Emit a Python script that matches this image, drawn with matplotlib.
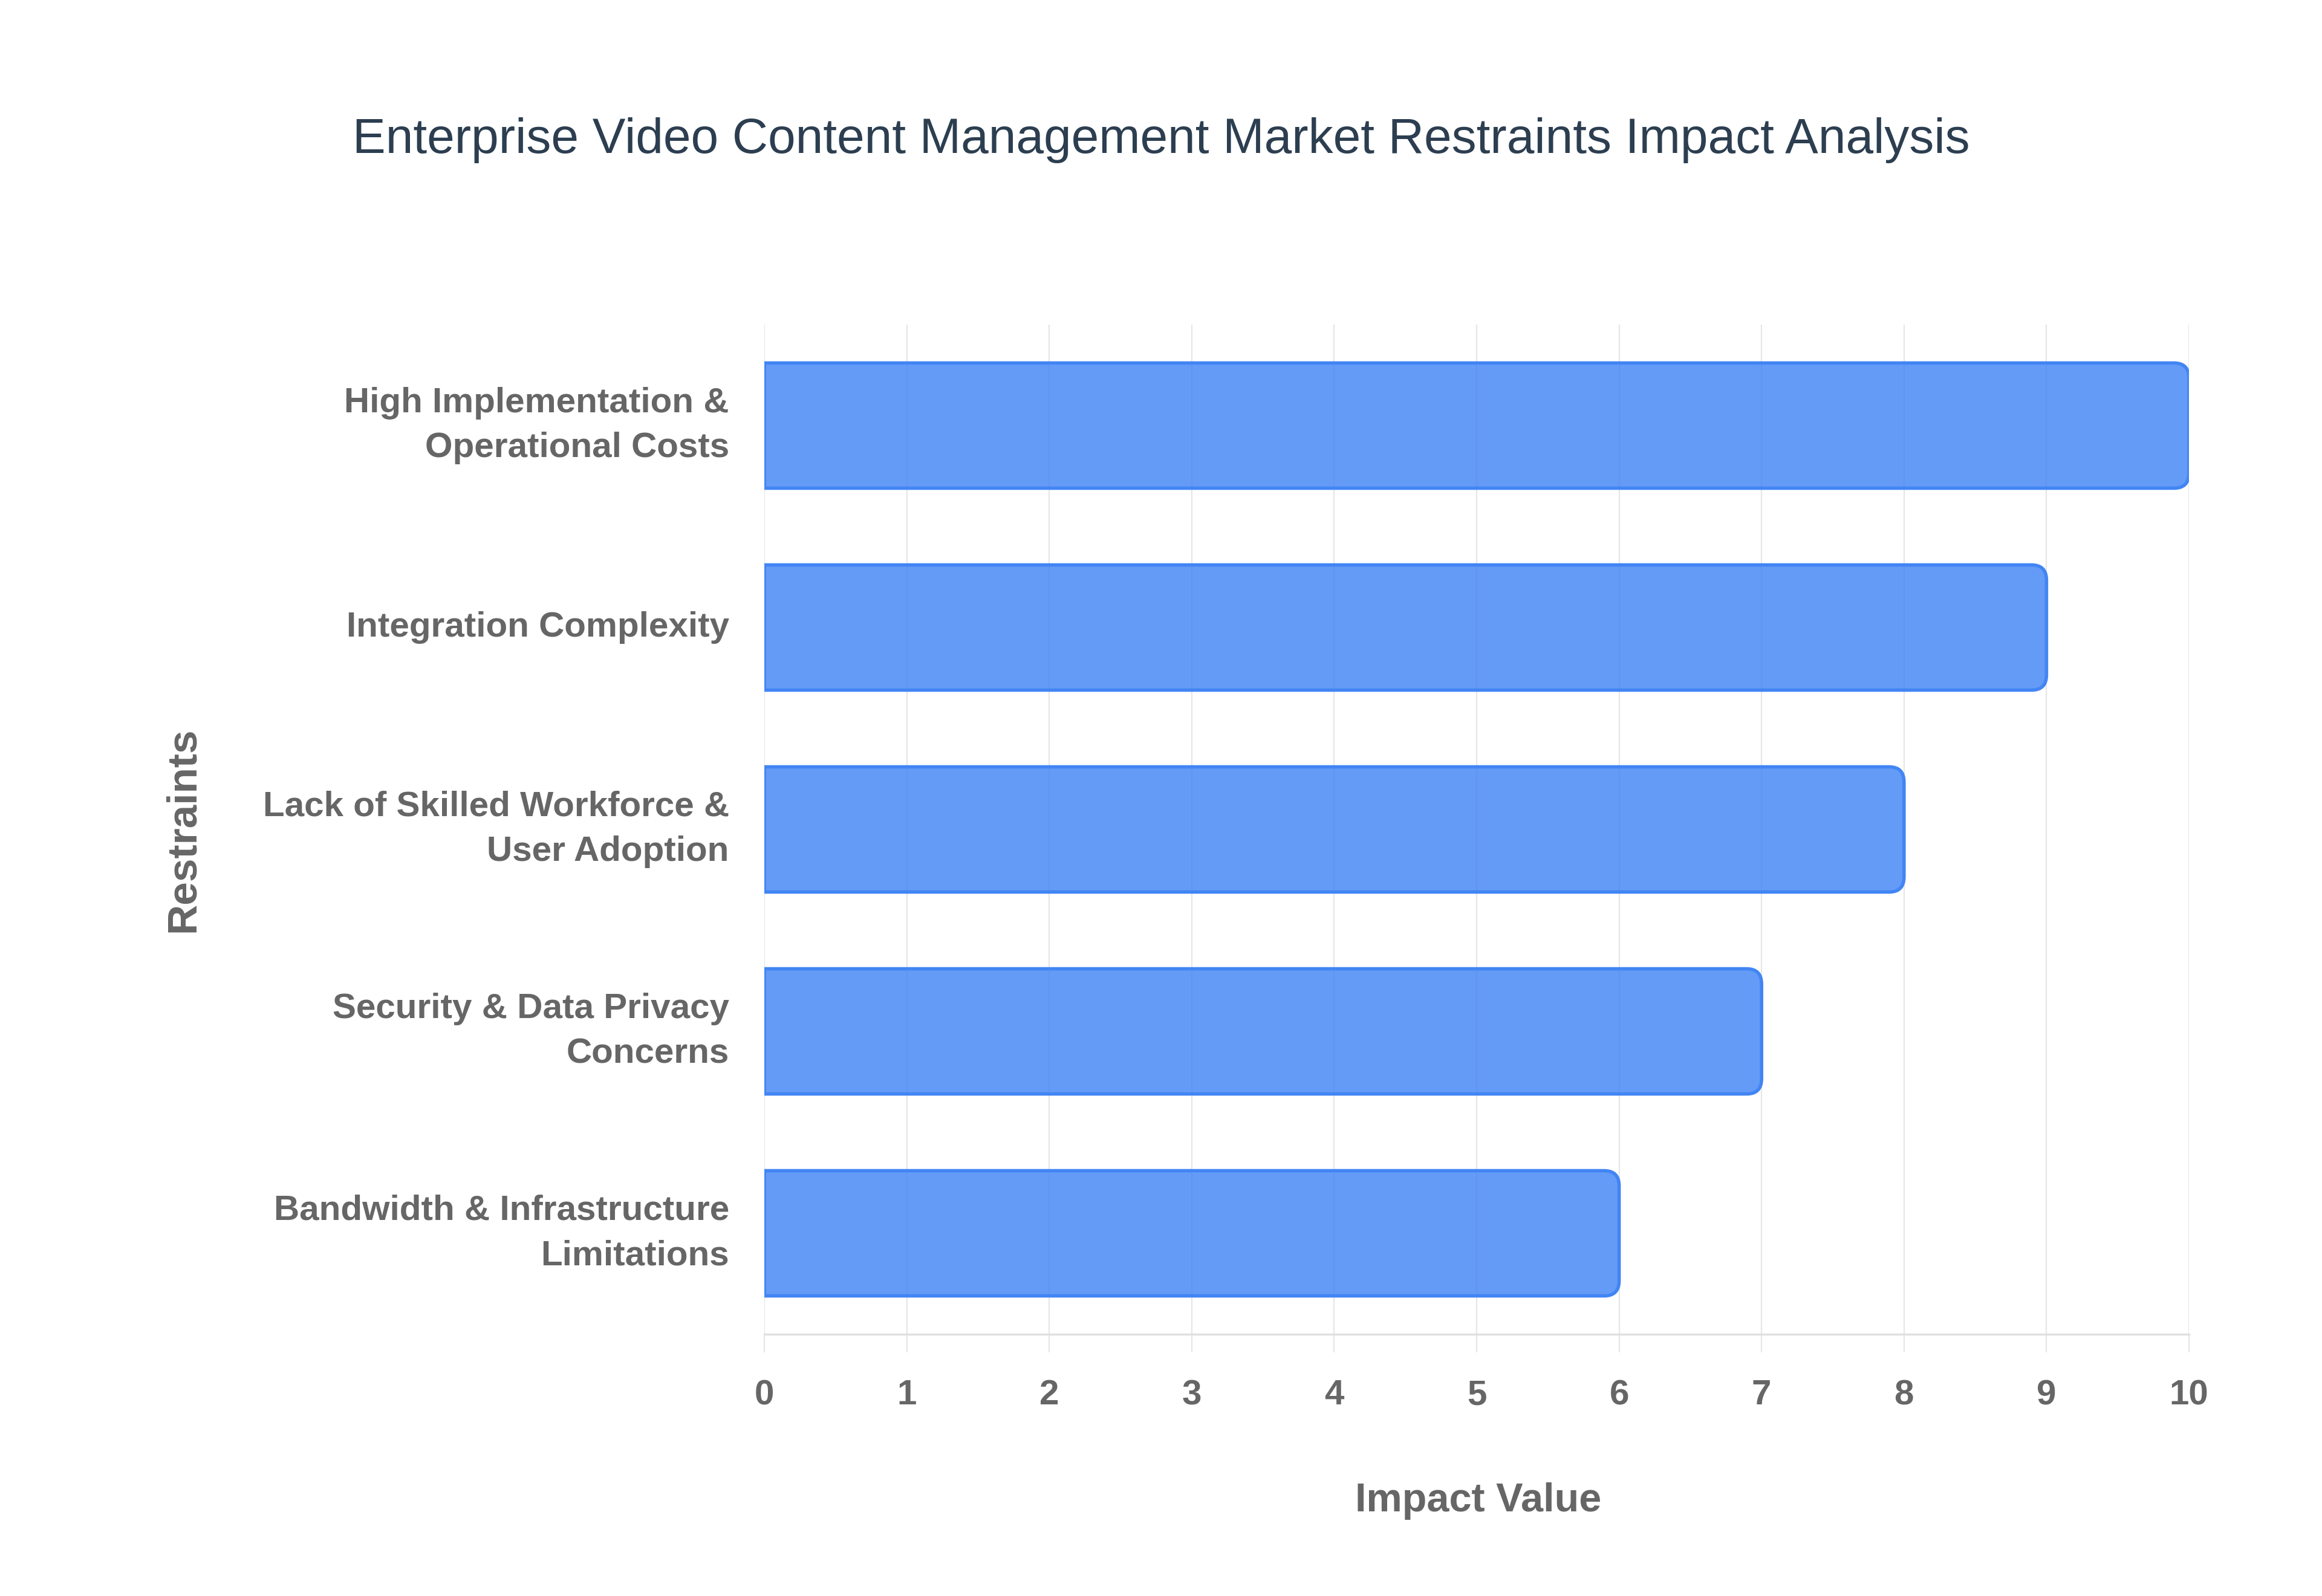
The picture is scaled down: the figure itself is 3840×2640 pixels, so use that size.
import matplotlib
matplotlib.use("Agg")
import matplotlib.pyplot as plt
from matplotlib.path import Path
from matplotlib.patches import PathPatch

# restraints, top to bottom
restraints = [
    "High Implementation &\nOperational Costs",
    "Integration Complexity",
    "Lack of Skilled Workforce &\nUser Adoption",
    "Security & Data Privacy\nConcerns",
    "Bandwidth & Infrastructure\nLimitations",
]
impact = [10, 9, 8, 7, 6]
x_ticks = [0, 1, 2, 3, 4, 5, 6, 7, 8, 9, 10]

plt.rcParams["font.family"] = ["Liberation Sans", "DejaVu Sans"]

fig = plt.figure(figsize=(19.2, 13.2), dpi=200)
ax = fig.add_axes([0.3292, 0.164, 0.6135, 0.6326])

pos = list(range(len(restraints)))
bars = ax.barh(pos, impact, height=0.62, color="none", edgecolor="none")

# swap plain rectangles for ones with rounded right end
rx, ry = 0.105, 0.075
for rect in bars.patches:
    x0, y0 = rect.get_x(), rect.get_y()
    w, h = rect.get_width(), rect.get_height()
    x1, y1 = x0 + w, y0 + h
    verts = [
        (x0, y0), (x1 - rx, y0),
        (x1, y0), (x1, y0 + ry),
        (x1, y1 - ry),
        (x1, y1), (x1 - rx, y1),
        (x0, y1), (x0, y0),
    ]
    codes = [Path.MOVETO, Path.LINETO,
             Path.CURVE3, Path.CURVE3,
             Path.LINETO,
             Path.CURVE3, Path.CURVE3,
             Path.LINETO, Path.CLOSEPOLY]
    ax.add_patch(PathPatch(Path(verts, codes), facecolor=(66/255, 133/255, 244/255, 0.82),
                           edgecolor="#4285F4", linewidth=2.0, zorder=3))
    rect.remove()

ax.set_xlim(0, 10)
ax.set_ylim(len(restraints) - 0.5, -0.5)
ax.set_xticks(x_ticks)
ax.set_yticks(pos)
ax.set_yticklabels(restraints, linespacing=1.48)

ax.grid(axis="x", color="#E6E6E6", linewidth=0.8, zorder=0)
ax.set_axisbelow(True)
for side in ["top", "right", "left"]:
    ax.spines[side].set_visible(False)
ax.spines["bottom"].set_color("#E0E0E0")
ax.spines["bottom"].set_linewidth(1.2)

ax.tick_params(axis="x", length=10.8, width=0.8, color="#E6E6E6", pad=16,
               labelsize=21, labelcolor="#666666")
ax.tick_params(axis="y", length=0, pad=21, labelsize=21, labelcolor="#666666")
for lab in ax.get_xticklabels() + ax.get_yticklabels():
    lab.set_fontweight("bold")
for lab in ax.get_yticklabels():
    lab.set_va("center")

ax.set_xlabel("Impact Value", fontsize=24, fontweight="bold", color="#666666", va="center")
ax.xaxis.set_label_coords(0.501, -0.165)
ax.set_ylabel("Restraints", fontsize=25, fontweight="bold", color="#666666", va="center")
ax.yaxis.set_label_coords(-0.408, 0.5)

fig.text(0.5, 0.912, "Enterprise Video Content Management Market Restraints Impact Analysis",
         ha="center", va="center", fontsize=29.5, color="#2C3E50")

fig.savefig("out.png", dpi=200, facecolor="white")
